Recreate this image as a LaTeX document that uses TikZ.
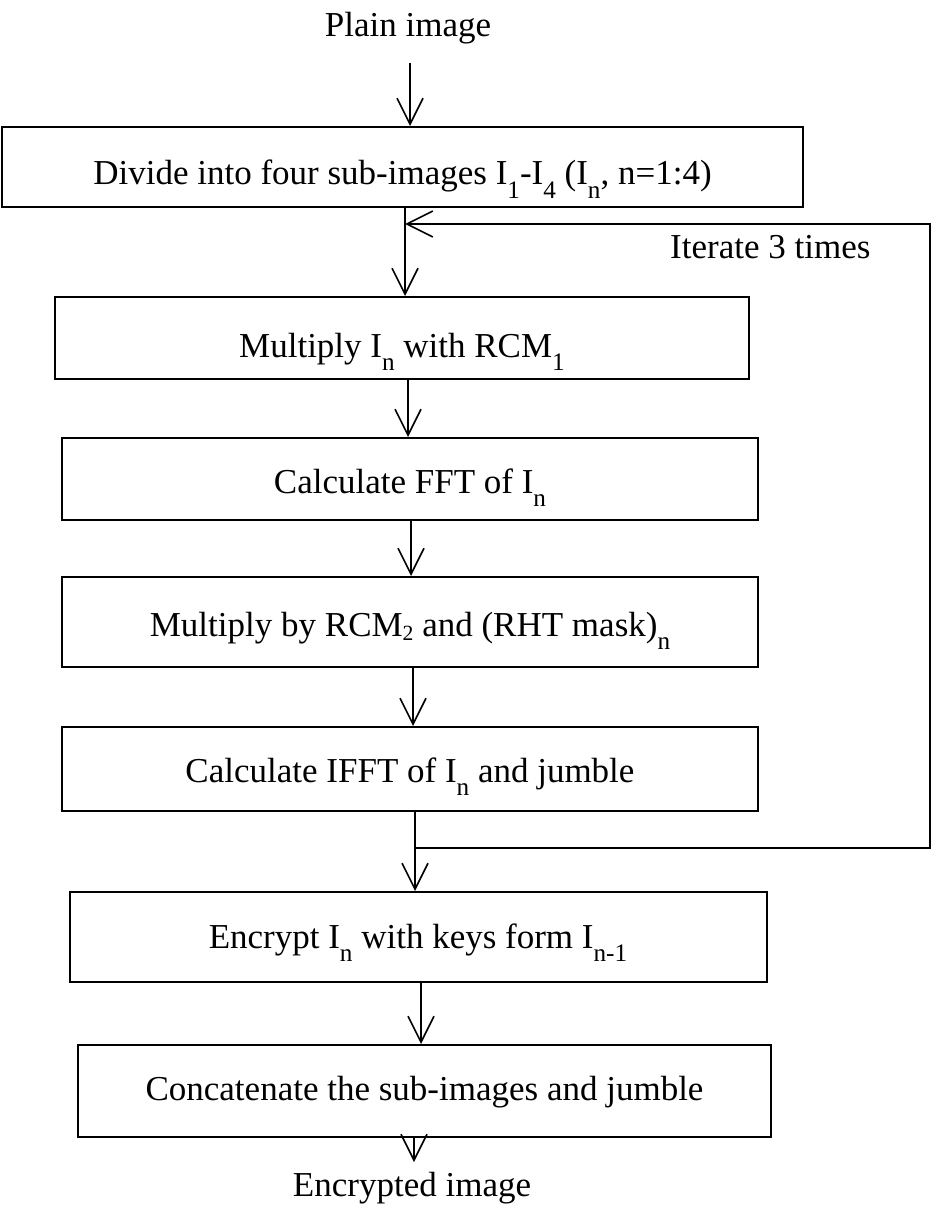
\documentclass[tikz,border=0pt]{standalone}
\usepackage{fontspec}
\setmainfont{Liberation Serif}
\usetikzlibrary{arrows.meta}
\newcommand{\lsub}[1]{\raisebox{-0.38em}{\scalebox{0.72}{#1}}}
\newcommand{\nsub}[1]{\raisebox{-0.12em}{\scalebox{0.62}{#1}}}
\tikzset{
  box/.style={draw, line width=2pt, rectangle, inner sep=0pt, text depth=0pt, font=\fontsize{35}{41}\selectfont},
  bl/.style={text height=#1},
  lbl/.style={inner sep=0pt, font=\fontsize{35}{41}\selectfont},
  arr/.style={line width=1.6pt, -{Straight Barb[length=26pt,width=26pt,line width=1.6pt]}},
}
\begin{document}
\begin{tikzpicture}[x=1pt,y=-1pt]
\useasboundingbox (0,0) rectangle (940,1230);
\node[lbl, anchor=base] (plain) at (408,37) {Plain image};
\node[box, bl=36pt, minimum width=801pt, minimum height=80pt] (b1) at (402.5,167) {Divide into four sub-images I\lsub{1}-I\lsub{4} (I\lsub{n}, n=1:4)};
\node[box, bl=38pt, minimum width=694pt, minimum height=82pt] (b2) at (402,338) {Multiply I\lsub{n} with RCM\lsub{1}};
\node[box, bl=28pt, minimum width=696pt, minimum height=82pt] (b3) at (410,479) {Calculate FFT of I\lsub{n}};
\node[box, bl=28pt, minimum width=696pt, minimum height=90pt] (b4) at (410,622) {Multiply by RCM\nsub{2} and (RHT mask)\lsub{n}};
\node[box, bl=26pt, minimum width=696pt, minimum height=84pt] (b5) at (410,769) {Calculate IFFT of I\lsub{n} and jumble};
\node[box, bl=22pt, minimum width=697pt, minimum height=90pt] (b6) at (418,937) {Encrypt I\lsub{n} with keys form I\lsub{n-1}};
\node[box, bl=18pt, minimum width=693pt, minimum height=92pt] (b7) at (424.5,1091) {Concatenate the sub-images and jumble};
\node[lbl, anchor=base] (enc) at (412,1196) {Encrypted image};
\node[lbl, anchor=base west] (iter) at (670,259) {Iterate 3 times};
% spine coordinates
\coordinate (x1) at (410,0);
\coordinate (x2) at (405,0);
\coordinate (x3) at (408,0);
\coordinate (x4) at (411,0);
\coordinate (x5) at (413,0);
\coordinate (x6) at (415,0);
\coordinate (x7) at (421,0);
\coordinate (x8) at (414,0);
\coordinate (loopin) at (405,224);
\coordinate (loopout) at (415,848);
\coordinate (rtop) at (930,224);
\coordinate (rbot) at (930,848);
\draw[arr] (x1 |- 0,63) -- (x1 |- b1.north);
\draw[arr] (x2 |- b1.south) -- (x2 |- b2.north);
\draw[arr] (x3 |- b2.south) -- (x3 |- b3.north);
\draw[arr] (x4 |- b3.south) -- (x4 |- b4.north);
\draw[arr] (x5 |- b4.south) -- (x5 |- b5.north);
\draw[arr] (x6 |- b5.south) -- (x6 |- b6.north);
\draw[arr] (x7 |- b6.south) -- (x7 |- b7.north);
\draw[arr] (x8 |- b7.south) -- (x8 |- 0,1162);
\draw[arr] (loopout) -- (rbot) -- (rtop) -- (loopin);
\end{tikzpicture}
\end{document}
